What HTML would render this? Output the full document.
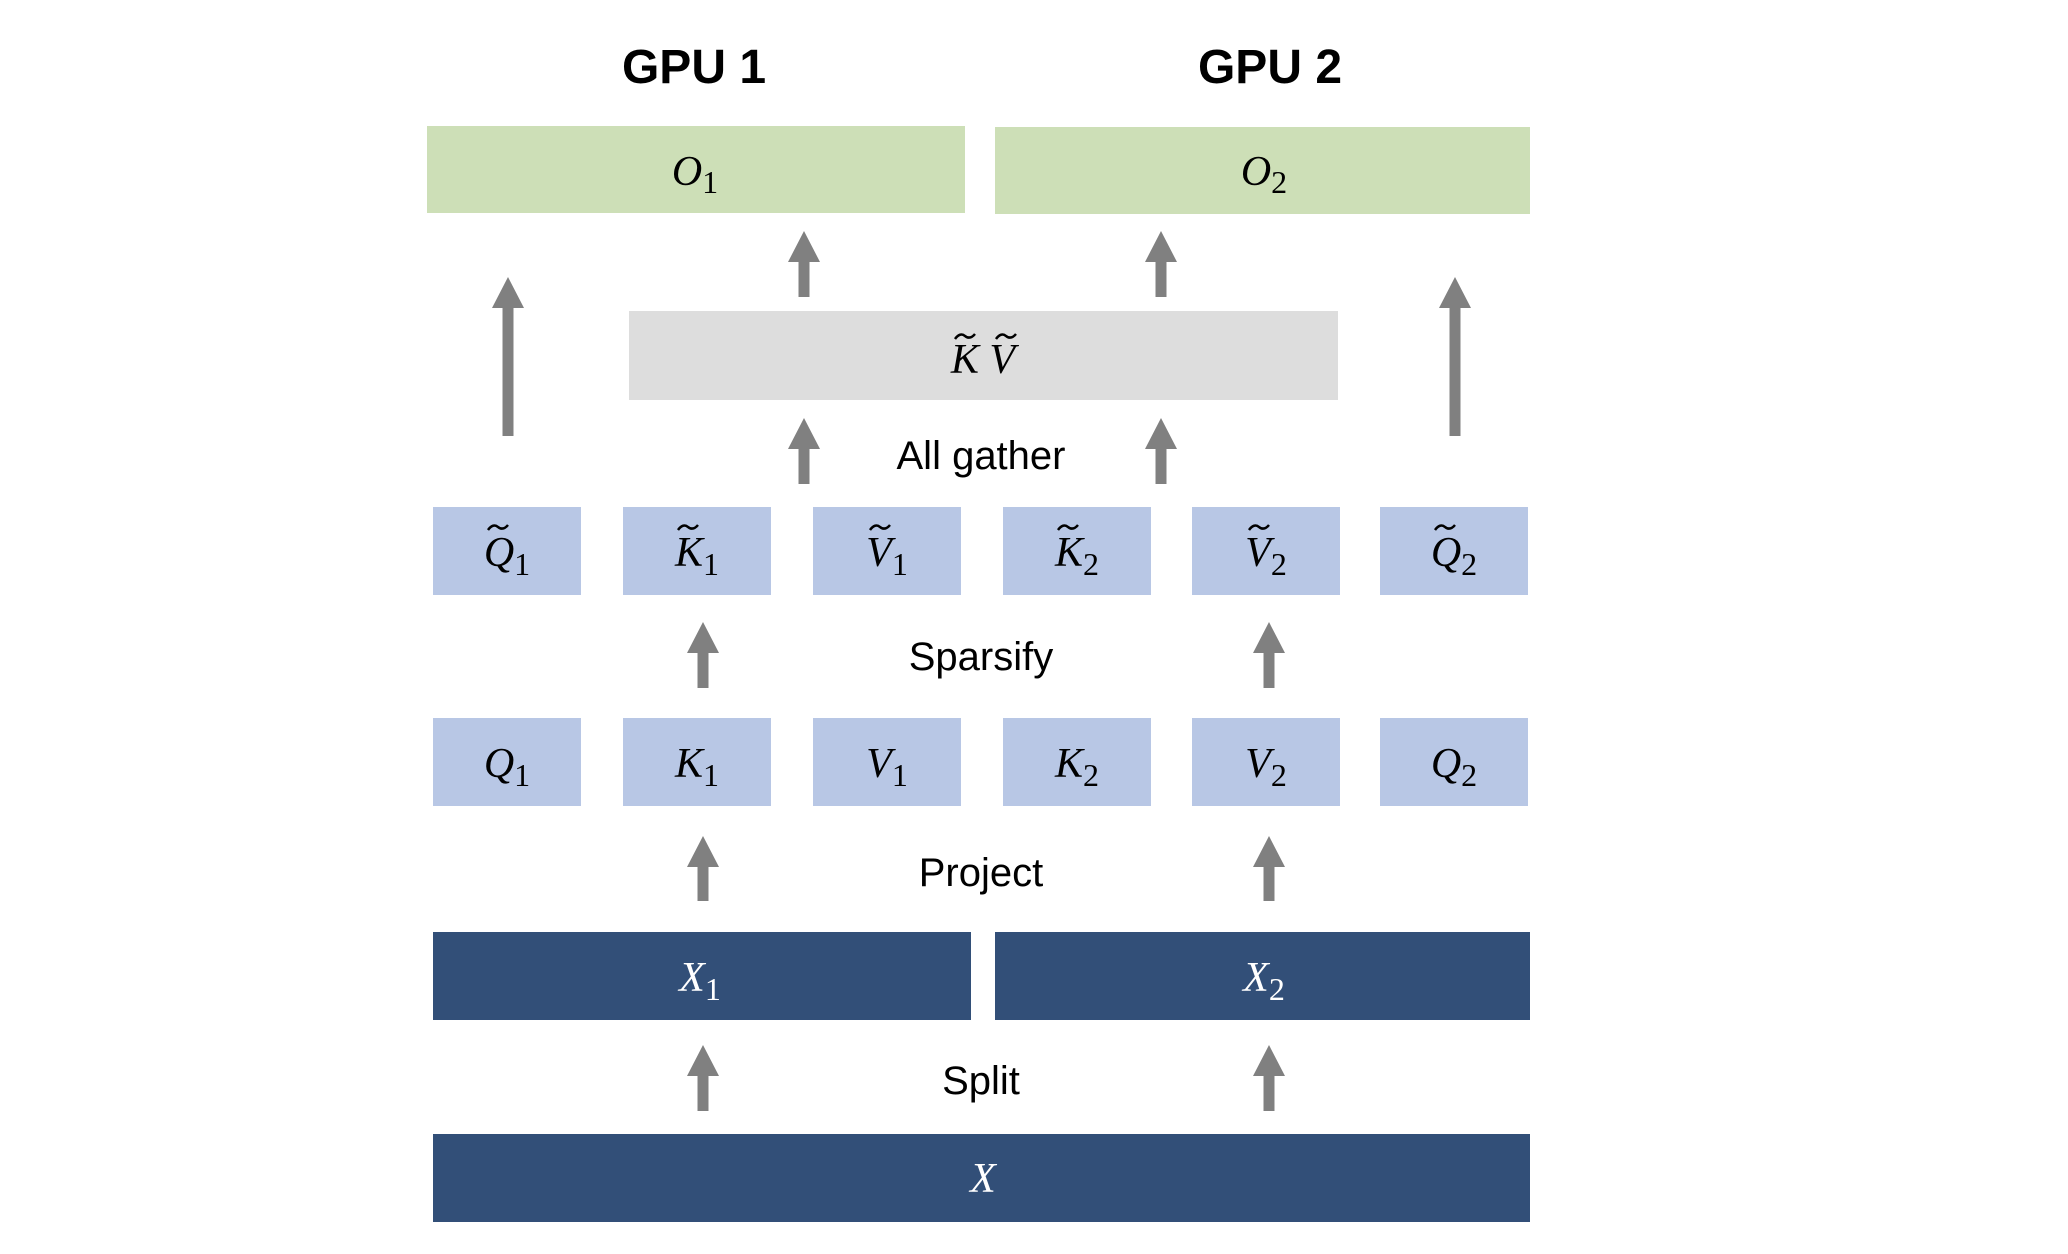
<!DOCTYPE html>
<html><head><meta charset="utf-8"><style>
html,body{margin:0;padding:0;background:#fff;}
svg{display:block;}
.m{font-family:"Liberation Serif","DejaVu Serif",serif;font-style:italic;font-size:42px;}
.s{font-family:"Liberation Serif","DejaVu Serif",serif;font-size:32px;}
.l{font-family:"Liberation Sans",sans-serif;font-size:40px;fill:#000;}
.g{font-family:"Liberation Sans",sans-serif;font-size:48px;font-weight:bold;fill:#000;}
</style></head><body>
<svg width="2068" height="1254" viewBox="0 0 2068 1254" xmlns="http://www.w3.org/2000/svg">
<defs>
<path id="tl" d="M0,6 Q5,-1 10,3 T20,1" fill="none" stroke="#000" stroke-width="2.5"/>
</defs>
<text class="g" x="694" y="83" text-anchor="middle">GPU 1</text>
<text class="g" x="1270" y="83" text-anchor="middle">GPU 2</text>
<rect x="427" y="126" width="538" height="87" fill="#cddfb7"/>
<rect x="995" y="127" width="535" height="87" fill="#cddfb7"/>
<text x="695" y="185" text-anchor="middle"><tspan class="m">O</tspan><tspan class="s" dy="8">1</tspan></text>
<text x="1264" y="185" text-anchor="middle"><tspan class="m">O</tspan><tspan class="s" dy="8">2</tspan></text>
<rect x="629" y="311" width="709" height="89" fill="#dddddd"/>
<text x="983" y="373" text-anchor="middle" class="m">K  V</text>
<use href="#tl" x="955" y="333"/><use href="#tl" x="996" y="333"/>
<g fill="#808080">
<polygon points="804,231 820,262 809.5,262 809.5,297 798.5,297 798.5,262 788,262"/>
<polygon points="1161,231 1177,262 1166.5,262 1166.5,297 1155.5,297 1155.5,262 1145,262"/>
<polygon points="508,277 524,308 513.5,308 513.5,436 502.5,436 502.5,308 492,308"/>
<polygon points="1455,277 1471,308 1460.5,308 1460.5,436 1449.5,436 1449.5,308 1439,308"/>
<polygon points="804,418 820,449 809.5,449 809.5,484 798.5,484 798.5,449 788,449"/>
<polygon points="1161,418 1177,449 1166.5,449 1166.5,484 1155.5,484 1155.5,449 1145,449"/>
<polygon points="703,622 719,653 708.5,653 708.5,688 697.5,688 697.5,653 687,653"/>
<polygon points="1269,622 1285,653 1274.5,653 1274.5,688 1263.5,688 1263.5,653 1253,653"/>
<polygon points="703,836 719,867 708.5,867 708.5,901 697.5,901 697.5,867 687,867"/>
<polygon points="1269,836 1285,867 1274.5,867 1274.5,901 1263.5,901 1263.5,867 1253,867"/>
<polygon points="703,1045 719,1076 708.5,1076 708.5,1111 697.5,1111 697.5,1076 687,1076"/>
<polygon points="1269,1045 1285,1076 1274.5,1076 1274.5,1111 1263.5,1111 1263.5,1076 1253,1076"/>
</g>
<text class="l" x="981" y="469" text-anchor="middle">All gather</text>
<text class="l" x="981" y="670" text-anchor="middle">Sparsify</text>
<text class="l" x="981" y="886" text-anchor="middle">Project</text>
<text class="l" x="981" y="1094" text-anchor="middle">Split</text>
<g fill="#b8c7e5">
<rect x="433" y="507" width="148" height="88"/><rect x="623" y="507" width="148" height="88"/>
<rect x="813" y="507" width="148" height="88"/><rect x="1003" y="507" width="148" height="88"/>
<rect x="1192" y="507" width="148" height="88"/><rect x="1380" y="507" width="148" height="88"/>
</g>
<g>
<text x="507" y="566" text-anchor="middle"><tspan class="m">Q</tspan><tspan class="s" dy="9">1</tspan></text>
<text x="697" y="566" text-anchor="middle"><tspan class="m">K</tspan><tspan class="s" dy="9">1</tspan></text>
<text x="887" y="566" text-anchor="middle"><tspan class="m">V</tspan><tspan class="s" dy="9">1</tspan></text>
<text x="1077" y="566" text-anchor="middle"><tspan class="m">K</tspan><tspan class="s" dy="9">2</tspan></text>
<text x="1266" y="566" text-anchor="middle"><tspan class="m">V</tspan><tspan class="s" dy="9">2</tspan></text>
<text x="1454" y="566" text-anchor="middle"><tspan class="m">Q</tspan><tspan class="s" dy="9">2</tspan></text>
<use href="#tl" x="488" y="524"/><use href="#tl" x="678" y="524"/><use href="#tl" x="870" y="524"/>
<use href="#tl" x="1058" y="524"/><use href="#tl" x="1249" y="524"/><use href="#tl" x="1435" y="524"/>
</g>
<g fill="#b8c7e5">
<rect x="433" y="718" width="148" height="88"/><rect x="623" y="718" width="148" height="88"/>
<rect x="813" y="718" width="148" height="88"/><rect x="1003" y="718" width="148" height="88"/>
<rect x="1192" y="718" width="148" height="88"/><rect x="1380" y="718" width="148" height="88"/>
</g>
<text x="507" y="777" text-anchor="middle"><tspan class="m">Q</tspan><tspan class="s" dy="9">1</tspan></text>
<text x="697" y="777" text-anchor="middle"><tspan class="m">K</tspan><tspan class="s" dy="9">1</tspan></text>
<text x="887" y="777" text-anchor="middle"><tspan class="m">V</tspan><tspan class="s" dy="9">1</tspan></text>
<text x="1077" y="777" text-anchor="middle"><tspan class="m">K</tspan><tspan class="s" dy="9">2</tspan></text>
<text x="1266" y="777" text-anchor="middle"><tspan class="m">V</tspan><tspan class="s" dy="9">2</tspan></text>
<text x="1454" y="777" text-anchor="middle"><tspan class="m">Q</tspan><tspan class="s" dy="9">2</tspan></text>
<rect x="433" y="932" width="538" height="88" fill="#324f78"/>
<rect x="995" y="932" width="535" height="88" fill="#324f78"/>
<rect x="433" y="1134" width="1097" height="88" fill="#324f78"/>
<text x="700" y="991" text-anchor="middle" fill="#fff"><tspan class="m">X</tspan><tspan class="s" dy="9">1</tspan></text>
<text x="1264" y="991" text-anchor="middle" fill="#fff"><tspan class="m">X</tspan><tspan class="s" dy="9">2</tspan></text>
<text x="983" y="1192" text-anchor="middle" fill="#fff" class="m">X</text>
</svg>
</body></html>
